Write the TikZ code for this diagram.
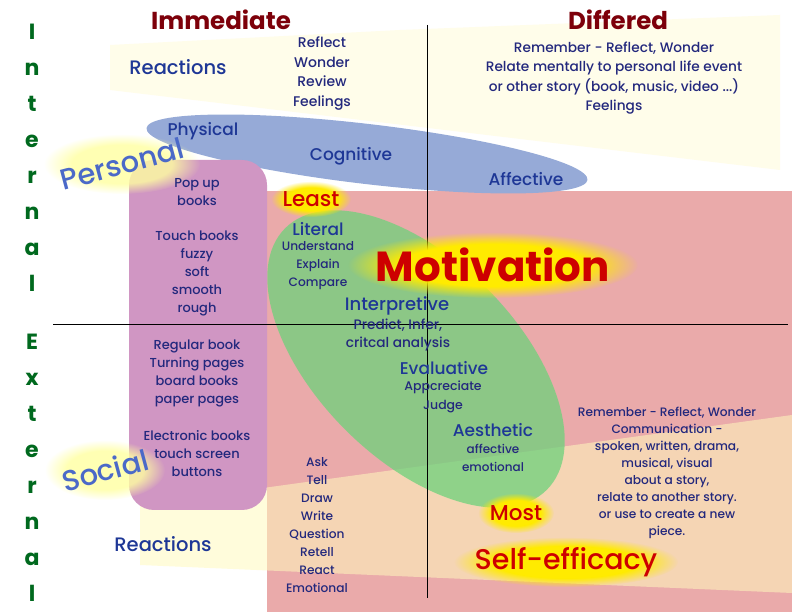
\documentclass[tikz,border=0pt]{standalone}
\usepackage{fontspec}
\setmainfont{Poppins}[UprightFont={* Medium}, BoldFont={* Bold}]
\usetikzlibrary{fadings}

\definecolor{navytxt}{RGB}{35,40,125}
\definecolor{bluetxt}{RGB}{30,55,150}
\definecolor{lightblue}{RGB}{75,105,200}
\definecolor{hotred}{RGB}{205,0,0}
\definecolor{darkred}{RGB}{125,0,10}
\definecolor{sidegreen}{RGB}{0,105,30}
\definecolor{pinkbg}{RGB}{234,170,170}
\definecolor{paleyellow}{RGB}{255,250,190}
\definecolor{bluefill}{RGB}{150,170,215}
\definecolor{greenfill}{RGB}{109,210,123}
\definecolor{boxfill}{RGB}{208,150,195}
\definecolor{glowyellow}{RGB}{255,235,0}
\definecolor{paleglow}{RGB}{255,255,160}

\pgfdeclarelayer{shapes}
\pgfdeclarelayer{glow}
\pgfsetlayers{shapes,glow,main}

\pgfdeclareradialshading{glowshade}{\pgfpointorigin}{color(0bp)=(white); color(16bp)=(white); color(25bp)=(black); color(50bp)=(black)}
\pgfdeclarefading{glowfade}{\pgfuseshading{glowshade}}

\begin{document}
\begin{tikzpicture}[x=1pt,y=1pt,
    every node/.style={inner sep=0pt, align=center},
    listtxt/.style={text=navytxt, font=\fontsize{12.2}{18}\selectfont},
    headtxt/.style={text=bluetxt, font=\fontsize{17}{18}\selectfont},
    titletxt/.style={text=darkred, font=\fontsize{24.5}{26}\selectfont\bfseries},
    reacttxt/.style={text=bluetxt, font=\fontsize{19.5}{22}\selectfont},
    sidetxt/.style={text=lightblue, font=\fontsize{29}{30}\selectfont, rotate=15},
    hottxt/.style={text=hotred, font=\fontsize{21.5}{24}\selectfont},
    motivtxt/.style={text=hotred, font=\fontsize{42}{44}\selectfont\bfseries},
    efftxt/.style={text=hotred, font=\fontsize{28.5}{30}\selectfont},
    letter/.style={text=sidegreen, font=\fontsize{22}{24}\selectfont\bfseries, anchor=base},
    glowfill/.style={fill=glowyellow, path fading=glowfade},
    bandfill/.style={fill=paleyellow, fill opacity=0.55},
    axis/.style={black, thin},
]
\useasboundingbox (0,0) rectangle (792,612);

\begin{pgfonlayer}{shapes}
    \fill[white] (0,0) rectangle (792,612);
    \fill[bandfill, fill opacity=0.32] (110,567) -- (400,582) -- (780,597) -- (780,442) -- (110,522) -- cycle; %upper band
    \fill[pinkbg] (267,0) rectangle (792,421);
    \fill[bandfill] (140,107) -- (792,197) -- (792,19) -- (140,47) -- cycle; %lower band
    \fill[bluefill, rotate around={-6.7:(367,458)}] (367,458) ellipse [x radius=222pt, y radius=30pt];
    \fill[greenfill, fill opacity=0.75, rotate around={-45:(416,253)}] (416,253) ellipse [x radius=185pt, y radius=100pt];
    \fill[boxfill, rounded corners=25pt] (129,102) rectangle (267,452);
    \draw[axis] (427,587) -- (427,14);
    \draw[axis] (53,288) -- (788,288);
\end{pgfonlayer}

\node[titletxt] (immediate) at (221,592) {Immediate};
\node[titletxt] (differed) at (618,592) {Differed};
\node[reacttxt] (reacttop) at (178,545) {Reactions};
\node[listtxt, font=\fontsize{14}{19.5}\selectfont] (reflect) at (322,538.5) {Reflect\\Wonder\\Review\\Feelings};
\node[listtxt, font=\fontsize{13.7}{19.3}\selectfont] (remember) at (614,534) {Remember - Reflect, Wonder\\Relate mentally to personal life event\\or other story (book, music, video ...)\\Feelings};

\node[headtxt] (physical) at (203,481) {Physical};
\node[headtxt] (cognitive) at (351,456) {Cognitive};
\node[headtxt] (affective) at (526,433) {Affective};

\node[sidetxt] (personal) at (122,448) {Personal};
\node[sidetxt] (social) at (105,142) {Social};

\node[listtxt, font=\fontsize{13}{18}\selectfont] (popup) at (197,419.5) {Pop up\\books};
\node[listtxt, font=\fontsize{13}{18}\selectfont] (touch) at (197,339) {Touch books\\fuzzy\\soft\\smooth\\rough};
\node[listtxt, font=\fontsize{13}{18}\selectfont] (regular) at (197,239) {Regular book\\Turning pages\\board books\\paper pages};
\node[listtxt, font=\fontsize{13}{18}\selectfont] (electronic) at (197,158) {Electronic books\\touch screen\\buttons};

\node[hottxt] (least) at (311,413) {Least};
\node[motivtxt] (motiv) at (493,347) {Motivation};
\node[headtxt] (literal) at (318,383) {Literal};
\node[listtxt] (literalsub) at (318,346) {Understand\\Explain\\Compare};
\node[headtxt, font=\fontsize{18}{18}\selectfont] (interp) at (397,306) {Interpretive};
\node[listtxt, font=\fontsize{13.7}{18}\selectfont] (interpsub) at (398,277) {Predict, Infer,\\critcal analysis};
\node[headtxt] (evaluative) at (444,244) {Evaluative};
\node[listtxt, font=\fontsize{12.5}{19}\selectfont] (evalsub) at (443,215.5) {Appcreciate\\Judge};
\node[headtxt] (aesthetic) at (493,182) {Aesthetic};
\node[listtxt, font=\fontsize{12}{18}\selectfont] (aesthsub) at (493,154) {affective\\emotional};

\node[listtxt, font=\fontsize{12.2}{17}\selectfont] (communic) at (667,139) {Remember - Reflect, Wonder\\Communication -\\spoken, written, drama,\\musical, visual\\about a story,\\relate to another story.\\or use to create a new\\piece.};
\node[listtxt] (asklist) at (317,87) {Ask\\Tell\\Draw\\Write\\Question\\Retell\\React\\Emotional};
\node[reacttxt] (reactbot) at (163,68) {Reactions};
\node[hottxt] (most) at (516,99) {Most};
\node[efftxt] (selfeff) at (566,50) {Self-efficacy};

\foreach \ch [count=\i] in {I,n,t,e,r,n,a,l}
    \node[letter] (int\i) at (32,{572-36*(\i-1)}) {\ch};
\foreach \ch [count=\i] in {E,x,t,e,r,n,a,l}
    \node[letter] (ext\i) at (32,{262-36*(\i-1)}) {\ch};

\begin{pgfonlayer}{glow}
    \fill[glowfill] (motiv.center) ellipse [x radius=145pt, y radius=33pt];
    \fill[glowfill] (least.center) ellipse [x radius=40pt, y radius=18pt];
    \fill[glowfill] (most.center) ellipse [x radius=38pt, y radius=20pt];
    \fill[glowfill] (selfeff.center) ellipse [x radius=112pt, y radius=25pt];
    \fill[glowfill, fill=paleglow, fill opacity=0.8] (personal.center) ellipse [x radius=78pt, y radius=30pt];
    \fill[glowfill, fill=paleglow, fill opacity=0.8] (social.center) ellipse [x radius=60pt, y radius=30pt];
\end{pgfonlayer}
\end{tikzpicture}
\end{document}
